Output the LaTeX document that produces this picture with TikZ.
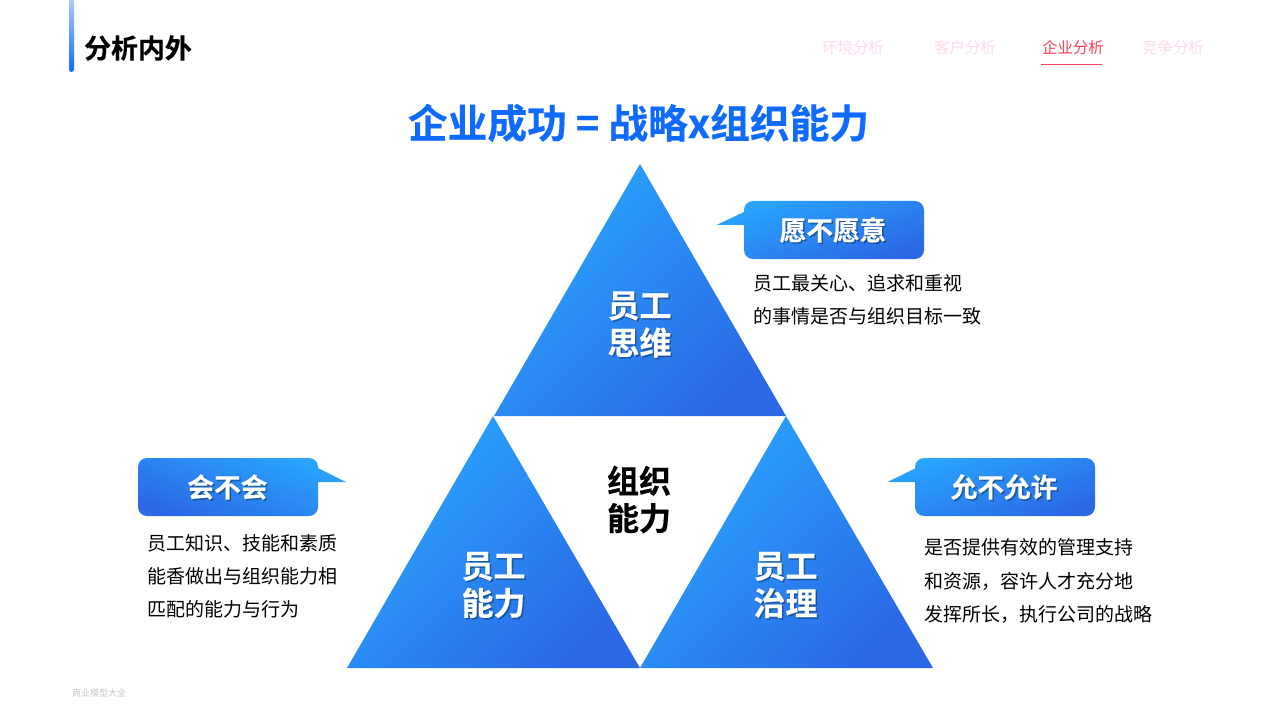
\documentclass[tikz,border=0pt]{standalone}
\usepackage{fontspec}
\setmainfont{Noto Sans CJK SC}
\newfontfamily\cjkb[FakeBold=0.4]{Noto Sans CJK SC Bold}
\definecolor{gLight}{HTML}{29A6FF}
\definecolor{gDark}{HTML}{2B69E5}
\definecolor{titleBlue}{HTML}{0F6BFF}
\definecolor{navPale}{HTML}{FFDCE2}
\definecolor{navRed}{HTML}{F5405A}
\definecolor{footGray}{HTML}{C8C8C8}
\tikzset{
  x=0.75pt,y=-0.75pt,
  gradTL/.style={top color=gLight,bottom color=gDark,shading angle=45},
  calTL/.style={top color=gLight,bottom color=gDark,shading angle=20},
  calTR/.style={top color=gLight,bottom color=gDark,shading angle=-20},
  nav/.style={font=\fontsize{11.6pt}{14pt}\selectfont,text=navPale,inner sep=0pt},
  desc/.style={font=\fontsize{14.25pt}{25pt}\selectfont,text=black,inner sep=0pt,align=left,anchor=north west},
  labelw/.style={font=\cjkb\fontsize{24pt}{28pt}\selectfont,text=white,inner sep=0pt,align=center},
  labelsh/.style={font=\cjkb\fontsize{24pt}{28pt}\selectfont,text=black,opacity=.3,inner sep=0pt,align=center},
  calw/.style={font=\cjkb\fontsize{20pt}{24pt}\selectfont,text=white,inner sep=0pt},
  calsh/.style={font=\cjkb\fontsize{20pt}{24pt}\selectfont,text=black,opacity=.3,inner sep=0pt},
}
\begin{document}
\begin{tikzpicture}
\useasboundingbox (0,0) rectangle (1280,720);
\fill[white] (0,0) rectangle (1280,720);
% header bar
\shade[top color=titleBlue!35,bottom color=titleBlue] (69,0) -- (74,0) -- (74,69.5) arc[start angle=0,end angle=180,radius=2.5] -- cycle;
\node[font=\cjkb\fontsize{20.2pt}{24pt}\selectfont,inner sep=0pt,text=black] (head) at (138,48) {分析内外};
% nav
\node[nav] (nav1) at (853,47.5) {环境分析};
\node[nav] (nav2) at (965,47.5) {客户分析};
\node[nav,text=navRed] (nav3) at (1073,47.5) {企业分析};
\node[nav] (nav4) at (1173,47.5) {竞争分析};
\draw[navRed,line width=0.75pt] (1041,64.5) -- (1102,64.5);
% main title
\node[font=\cjkb\fontsize{29.8pt}{36pt}\selectfont,text=titleBlue,inner sep=0pt] (title) at (638.5,123) {企业成功 = 战略x组织能力};
% triangles
\shade[gradTL] (640,164) -- (786,416) -- (494,416) -- cycle;
\shade[gradTL] (493,416) -- (640,668) -- (347,668) -- cycle;
\shade[gradTL] (786,416) -- (933,668) -- (640,668) -- cycle;
% triangle labels
\node[labelsh] (t1s) at (641,326) {员工\\思维};
\node[labelw] (t1) at (639.5,324.5) {员工\\思维};
\node[labelsh] (t2s) at (495,586.5) {员工\\能力};
\node[labelw] (t2) at (493.5,585) {员工\\能力};
\node[labelsh] (t3s) at (787,586.5) {员工\\治理};
\node[labelw] (t3) at (785.5,585) {员工\\治理};
\node[font=\cjkb\fontsize{24pt}{28pt}\selectfont,text=black,inner sep=0pt,align=center] (center) at (639,499.5) {组织\\能力};
% callouts
\shade[calTL] (753,201) -- (915,201) arc[start angle=-90,end angle=0,radius=9] -- (924,250) arc[start angle=0,end angle=90,radius=9] -- (753,259) arc[start angle=90,end angle=180,radius=9] -- (744,225) -- (716.5,225) -- (744,212) -- (744,210) arc[start angle=180,end angle=270,radius=9] -- cycle;
\shade[calTR] (147,458) -- (309,458) arc[start angle=-90,end angle=0,radius=9] -- (318,468) -- (346,482) -- (318,482) -- (318,507) arc[start angle=0,end angle=90,radius=9] -- (147,516) arc[start angle=90,end angle=180,radius=9] -- (138,467) arc[start angle=180,end angle=270,radius=9] -- cycle;
\shade[calTL] (924,458) -- (1086,458) arc[start angle=-90,end angle=0,radius=9] -- (1095,507) arc[start angle=0,end angle=90,radius=9] -- (924,516) arc[start angle=90,end angle=180,radius=9] -- (915,482) -- (887.5,482) -- (915,468.5) -- (915,467) arc[start angle=180,end angle=270,radius=9] -- cycle;
% callout labels
\node[calsh] (c1s) at (834.5,231.5) {愿不愿意};
\node[calw] (c1) at (833,230) {愿不愿意};
\node[calsh] (c2s) at (229,488.5) {会不会};
\node[calw] (c2) at (227.5,487) {会不会};
\node[calsh] (c3s) at (1005.5,488.5) {允不允许};
\node[calw] (c3) at (1004,487) {允不允许};
% descriptions
\node[desc] (d1) at (753,274) {员工最关心、追求和重视\\的事情是否与组织目标一致};
\node[desc] (d2) at (147,534) {员工知识、技能和素质\\能香做出与组织能力相\\匹配的能力与行为};
\node[desc] (d3) at (924,538.5) {是否提供有效的管理支持\\和资源，容许人才充分地\\发挥所长，执行公司的战略};
% footer
\node[font=\fontsize{6.75pt}{8pt}\selectfont,text=footGray,inner sep=0pt] (foot) at (99,693) {商业模型大全};
\end{tikzpicture}
\end{document}
